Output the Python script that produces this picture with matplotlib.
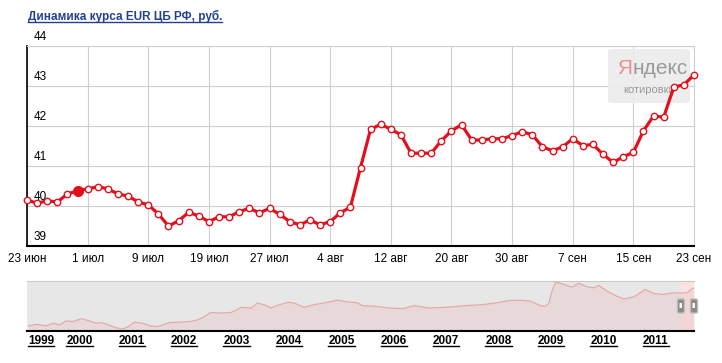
import matplotlib
matplotlib.use('Agg')
from matplotlib import pyplot as plt
from matplotlib.lines import Line2D
from matplotlib.patches import FancyBboxPatch
import matplotlib.transforms as mtransforms

plt.rcParams['font.family'] = ['Liberation Sans', 'DejaVu Sans']

# EUR rate by trading day, 23 Jun - 23 Sep 2011
rate = [40.15, 40.07, 40.13, 40.10, 40.30, 40.38, 40.43, 40.48, 40.43, 40.30,
        40.25, 40.10, 40.03, 39.80, 39.50, 39.63, 39.84, 39.75, 39.61, 39.73,
        39.73, 39.86, 39.94, 39.83, 39.94, 39.79, 39.61, 39.53, 39.65, 39.53,
        39.61, 39.83, 39.97, 40.96, 41.92, 42.04, 41.92, 41.78, 41.32, 41.32,
        41.32, 41.63, 41.88, 42.03, 41.65, 41.65, 41.68, 41.68, 41.76, 41.86,
        41.78, 41.48, 41.38, 41.48, 41.68, 41.51, 41.54, 41.29, 41.09, 41.23,
        41.34, 41.88, 42.25, 42.22, 42.97, 43.03, 43.28]
highlight = 5
date_labels = ['23 июн', '1 июл', '9 июл', '19 июл', '27 июл', '4 авг',
               '12 авг', '20 авг', '30 авг', '7 сен', '15 сен', '23 сен']
y_ticks = [39, 40, 41, 42, 43, 44]

# long history for the navigator strip (year, rate as drawn)
hist_year = [1999.03, 1999.18, 1999.37, 1999.50, 1999.62, 1999.75, 1999.88, 2000.04,
             2000.17, 2000.32, 2000.42, 2000.55, 2000.70, 2000.83, 2000.93, 2001.05,
             2001.21, 2001.34, 2001.47, 2001.59, 2001.72, 2001.91, 2002.10, 2002.26,
             2002.39, 2002.51, 2002.70, 2002.90, 2003.09, 2003.28, 2003.40, 2003.56,
             2003.66, 2003.82, 2003.98, 2004.10, 2004.29, 2004.48, 2004.67, 2004.93,
             2005.12, 2005.30, 2005.40, 2005.66, 2005.91, 2006.17, 2006.39, 2006.67,
             2006.99, 2007.37, 2007.69, 2007.94, 2008.20, 2008.45, 2008.61, 2008.80,
             2008.90, 2008.96, 2009.02, 2009.09, 2009.24, 2009.40, 2009.53, 2009.69,
             2009.82, 2009.91, 2010.07, 2010.26, 2010.39, 2010.58, 2010.80, 2010.96,
             2011.15, 2011.34, 2011.47, 2011.59, 2011.68, 2011.73]
hist_rate = [25.4, 26.3, 25.4, 27.0, 26.0, 28.4, 28.0, 29.7,
             28.6, 27.0, 27.4, 26.0, 24.3, 23.5, 24.9, 27.6,
             27.0, 25.5, 24.9, 26.0, 27.4, 27.6, 28.0, 29.0,
             31.1, 33.5, 33.1, 33.5, 36.6, 36.2, 39.2, 37.8,
             36.2, 38.2, 39.6, 39.2, 36.6, 38.2, 39.2, 40.9,
             39.8, 39.4, 37.6, 37.2, 36.2, 35.8, 37.6, 36.2,
             36.6, 37.6, 38.2, 39.2, 40.7, 40.9, 40.3, 37.6,
             37.2, 39.2, 46.4, 51.9, 50.5, 48.8, 51.1, 49.0,
             48.4, 49.9, 46.4, 43.3, 41.7, 42.9, 47.4, 45.0,
             44.4, 45.4, 45.2, 45.4, 47.4, 48.4]
years = list(range(1999, 2012))
sel_start, sel_end = 2011.48, 2011.73

W, H = 722, 363
fig = plt.figure(figsize=(W / 100, H / 100), dpi=100)

red = '#e3101b'
grid_c = '#cfcfcf'

# ---- main chart
ax = fig.add_axes([27 / W, 1 - 246 / H, 667 / W, 200 / H])
ax.set_xlim(0, len(rate) - 1)
ax.set_ylim(39, 44)
ax.set_axisbelow(True)
ax.set_xticks(range(0, len(rate), 6))
ax.set_xticklabels(date_labels, fontsize=8.5)
ax.set_yticks(y_ticks)
ax.set_yticklabels([])
ax.tick_params(length=0, pad=5)
ax.grid(True, color=grid_c, linewidth=0.8)
for s in ['top', 'right']:
    ax.spines[s].set_color(grid_c)
    ax.spines[s].set_linewidth(0.8)
ax.spines['left'].set_color('black')
ax.spines['left'].set_linewidth(1.2)
ax.spines['bottom'].set_color('black')
ax.spines['bottom'].set_linewidth(1.5)
ylab_tr = mtransforms.blended_transform_factory(ax.transAxes, ax.transData)
for v in y_ticks:
    ax.text(0.01, v + 0.07, str(v), transform=ylab_tr, fontsize=8.5,
            ha='left', va='bottom', clip_on=False)

# watermark
wm = FancyBboxPatch((608 / W, 1 - 103 / H), 82 / W, 54 / H,
                    boxstyle='round,pad=0,rounding_size=0.006',
                    transform=fig.transFigure, facecolor='#ebebeb',
                    edgecolor='none', alpha=0.9, zorder=1)
ax.add_patch(wm)
ya = ax.text(617 / W, 1 - 69 / H, 'Я', transform=fig.transFigure, fontsize=15,
             color='#e89090', ha='left', va='center', zorder=1.3)
ax.text(649 / W, 1 - 90 / H, 'котировки', transform=fig.transFigure, fontsize=8,
        color='#9a9a9a', ha='center', va='center', zorder=1.2)

xs = list(range(len(rate)))
ax.plot(xs, rate, color=red, linewidth=2.3, marker='o', markersize=4.6,
        markerfacecolor='white', markeredgecolor=red, markeredgewidth=1.0,
        zorder=3, clip_on=False)
ax.plot([highlight], [rate[highlight]], marker='o', markersize=7, color=red,
        zorder=4)

# ---- navigator strip
nav = fig.add_axes([27 / W, 1 - 331 / H, 667 / W, 50 / H])
nav.set_xlim(1999.0, sel_end)
nav.set_ylim(22.3, 52.5)
nav.set_xticks([])
nav.set_yticks([])
for s in ['left', 'right']:
    nav.spines[s].set_visible(False)
nav.spines['top'].set_color('#c8c8c8')
nav.spines['top'].set_linewidth(0.8)
nav.spines['bottom'].set_color('black')
nav.spines['bottom'].set_linewidth(1.5)
nav.axvspan(1999.0, sel_start, color='#e7e7e7', zorder=0)
nav.axvspan(sel_start, sel_end, color='#fbe3e3', zorder=0)
nav.fill_between(hist_year, 22.3, hist_rate, color='#e8c8c8', alpha=0.45,
                 linewidth=0, zorder=1)
nav.plot(hist_year, hist_rate, color='#e6a9a9', linewidth=0.9, zorder=2)
htr = mtransforms.blended_transform_factory(nav.transData, nav.transAxes)
for hx in [sel_start, sel_end]:
    hw = 7 / 667 * (sel_end - 1999.0)
    h = FancyBboxPatch((hx - hw / 2, 0.36), hw, 0.28,
                       boxstyle='round,pad=0,rounding_size=0.03',
                       transform=htr, facecolor='#8a8a8a', edgecolor='#bdbdbd',
                       linewidth=1.0, zorder=5, clip_on=False)
    nav.add_patch(h)
    nav.text(hx, 0.5, 'II', transform=htr, fontsize=6, color='white',
             fontweight='bold', ha='center', va='center', zorder=6, clip_on=False)

ytr = mtransforms.blended_transform_factory(nav.transData, fig.transFigure)
year_texts = []
for yr in years:
    if yr == 1999:
        t = nav.text(1999.02, 1 - 341 / H, str(yr), transform=ytr, ha='left',
                     va='center', fontsize=8.5, fontweight='bold')
    else:
        t = nav.text(yr, 1 - 341 / H, str(yr), transform=ytr, ha='center',
                     va='center', fontsize=8.5, fontweight='bold')
    year_texts.append(t)

title = fig.text(28 / W, 1 - 16 / H, 'Динамика курса EUR ЦБ РФ, руб.',
                 fontsize=8.5, fontweight='bold', color='#24418f',
                 ha='left', va='center')

fig.canvas.draw()
renderer = fig.canvas.get_renderer()
inv = fig.transFigure.inverted()

# rest of the watermark word, right after the red letter
bb = ya.get_window_extent(renderer)
ax.text(inv.transform((bb.x1 + 0.5, 0))[0], 1 - 69 / H, 'ндекс',
        transform=fig.transFigure, fontsize=15, color='#9a9a9a',
        ha='left', va='center', zorder=1.2)

# underlines
for t, c in [(title, '#24418f')] + [(t, 'black') for t in year_texts]:
    bb = t.get_window_extent(renderer)
    (x0, y0), (x1, _) = inv.transform([(bb.x0, bb.y0 + 1), (bb.x1, bb.y0 + 1)])
    fig.add_artist(Line2D([x0, x1], [y0, y0], transform=fig.transFigure,
                          color=c, linewidth=1.0))

fig.savefig('out.png', dpi=100)
